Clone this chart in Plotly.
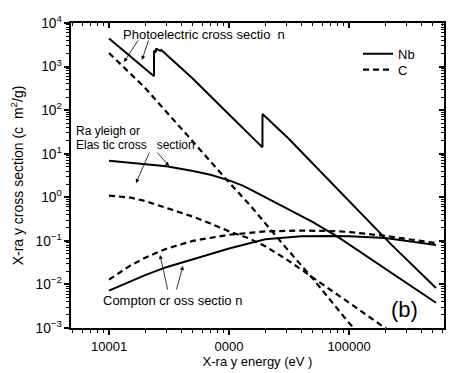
import plotly.graph_objects as go

# ---------------- data ----------------
# energies in eV, cross sections in cm^2/g
nb_photo_E = [1000, 1500, 2000, 2370, 2371, 2465, 2465, 2698, 2698, 3000, 5000,
              10000, 15000, 18980, 18990, 31000, 50000, 100000, 225000, 530000]
nb_photo_v = [4400, 1720, 884, 597, 2300, 2150, 2600, 2250, 2450, 1870, 525,
              79.6, 26.5, 14.0, 81.5, 22.9, 5.9, 0.83, 0.082, 0.0083]

nb_rayl_E = [1000, 2000, 3000, 5000, 7000, 10000, 13000, 16000, 20000, 30000,
             50000, 80000, 100000, 200000, 530000]
nb_rayl_v = [6.9, 5.8, 5.15, 4.0, 3.3, 2.45, 1.85, 1.38, 1.0, 0.58,
             0.27, 0.125, 0.083, 0.023, 0.0038]

nb_comp_E = [1000, 1500, 2000, 3000, 5000, 10000, 20000, 40000, 70000, 100000,
             200000, 530000]
nb_comp_v = [0.0072, 0.0116, 0.0163, 0.0249, 0.038, 0.067, 0.109, 0.127, 0.129,
             0.127, 0.116, 0.080]

c_photo_E = [1000, 1500, 2000, 3000, 5000, 7000, 10000, 15000, 20000, 30000,
             50000, 100000, 150000]
c_photo_v = [2050, 700, 322, 92, 18.8, 6.4, 2.2, 0.65, 0.25, 0.068,
             0.0135, 0.0013, 0.0004]

c_rayl_E = [1000, 1500, 2000, 3000, 5000, 7000, 10000, 14400, 20000, 30000,
            50000, 100000, 200000, 300000]
c_rayl_v = [1.09, 0.99, 0.82, 0.58, 0.36, 0.25, 0.165, 0.116, 0.075, 0.038,
            0.0145, 0.0038, 0.001, 0.00046]

c_comp_E = [1000, 1500, 2000, 3000, 5000, 10000, 20000, 40000, 70000, 100000,
            200000, 530000]
c_comp_v = [0.0129, 0.027, 0.041, 0.066, 0.1, 0.138, 0.165, 0.172, 0.168, 0.16,
            0.13, 0.089]

x_tick_alias = {"1000": "10001", "10000": "0000", "10,000": "0000", "100,000": "100000"}
y_tick_alias = {"1": "10<sup>0</sup>", "10": "10<sup>1</sup>"}

# ---------------- layout helpers ----------------
W, H = 463, 373
L, R, T, B = 63, 436, 15, 320


def P(px, py):
    return (px - L) / (R - L), (B - py) / (B - T)


FONT = "Liberation Sans, Arial, sans-serif"
solid = dict(color="black", width=2)
dashed = dict(color="black", width=2.2, dash="6px,4px")

fig = go.Figure()
fig.add_trace(go.Scatter(x=nb_photo_E, y=nb_photo_v, mode="lines", line=solid,
                         name="Nb", legend="legend", showlegend=True))
fig.add_trace(go.Scatter(x=nb_rayl_E, y=nb_rayl_v, mode="lines", line=solid, showlegend=False))
fig.add_trace(go.Scatter(x=nb_comp_E, y=nb_comp_v, mode="lines", line=solid, showlegend=False))
fig.add_trace(go.Scatter(x=c_photo_E, y=c_photo_v, mode="lines", line=dashed,
                         name="C", legend="legend2", showlegend=True))
fig.add_trace(go.Scatter(x=c_rayl_E, y=c_rayl_v, mode="lines", line=dashed, showlegend=False))
fig.add_trace(go.Scatter(x=c_comp_E, y=c_comp_v, mode="lines", line=dashed, showlegend=False))
# empty trace so the mirrored (top/right) axes exist
fig.add_trace(go.Scatter(x=[], y=[], xaxis="x2", yaxis="y2", showlegend=False, hoverinfo="skip"))

X_RANGE = [2.683, 5.791]
Y_RANGE = [-3, 4]
base = dict(type="log", showgrid=False, zeroline=False, showline=True, automargin=False,
            linecolor="black", linewidth=2, dtick=1, ticklen=5, tickwidth=1.5,
            tickcolor="black")
minor_out = dict(ticks="outside", ticklen=3, tickwidth=1, tickcolor="black", dtick="D1", showgrid=False)
minor_in = dict(ticks="inside", ticklen=3, tickwidth=1, tickcolor="black", dtick="D1", showgrid=False)

fig.update_layout(
    width=W, height=H,
    margin=dict(l=L, r=W - R, t=T, b=H - B, pad=0, autoexpand=False),
    paper_bgcolor="white", plot_bgcolor="white",
    font=dict(family=FONT, color="black", size=13),
    xaxis=dict(**base, range=X_RANGE, ticks="outside", tickformat="d",
               labelalias=x_tick_alias, tickfont=dict(size=13), minor=minor_out,
               title=dict(text="X-ra y energy (eV )", font=dict(size=13), standoff=2)),
    xaxis2=dict(**base, range=X_RANGE, overlaying="x", side="top", anchor="y2",
                ticks="inside", showticklabels=False, minor=minor_in),
    yaxis=dict(**base, range=Y_RANGE, ticks="outside", exponentformat="power",
               labelalias=y_tick_alias, tickfont=dict(size=11), minor=minor_out,
               title=dict(text="X-ra y cross section (c\u00a0\u00a0m<sup>2</sup>/g)", font=dict(size=14))),
    yaxis2=dict(**base, range=Y_RANGE, overlaying="y", side="right", anchor="x2",
                ticks="inside", showticklabels=False, minor=minor_in),
    legend=dict(x=P(350, 0)[0], y=P(0, 45.7)[1], xanchor="left", yanchor="middle",
                bgcolor="rgba(0,0,0,0)", borderwidth=0, font=dict(size=13)),
    legend2=dict(x=P(350, 0)[0], y=P(0, 61.7)[1], xanchor="left", yanchor="middle",
                 bgcolor="rgba(0,0,0,0)", borderwidth=0, font=dict(size=13)),
)

annotations = []


def label(px, py, text, size=13, xanchor="left"):
    x, y = P(px, py)
    annotations.append(dict(xref="paper", yref="paper", x=x, y=y, text=text, showarrow=False,
                            xanchor=xanchor, yanchor="middle", font=dict(size=size, family=FONT)))


def arrow(tx, ty, hx, hy):
    x, y = P(hx, hy)
    annotations.append(dict(xref="paper", yref="paper", x=x, y=y, ax=tx - hx, ay=ty - hy,
                            axref="pixel", ayref="pixel", text="", showarrow=True,
                            arrowhead=2, arrowsize=1, arrowwidth=0.8, arrowcolor="black",
                            standoff=0, startstandoff=0))


label(113, 26.5, "Photoelectric cross sectio\u00a0\u00a0n", 13)
label(66, 122.7, "Ra yleigh or", 12)
label(66, 136.7, "Elas tic cross\u00a0\u00a0 section", 12)
label(93, 292.5, "Compton cr oss sectio n", 13)
label(396.7, 301.7, "(b)", 22, xanchor="center")

arrow(131, 31, 116, 54)
arrow(141, 31, 134, 52)
arrow(142, 143, 128, 175)
arrow(148, 143, 161, 158)
arrow(160, 283, 152, 247)
arrow(168, 283, 175, 258)

fig.update_layout(annotations=annotations)
fig.write_html("out.html")
